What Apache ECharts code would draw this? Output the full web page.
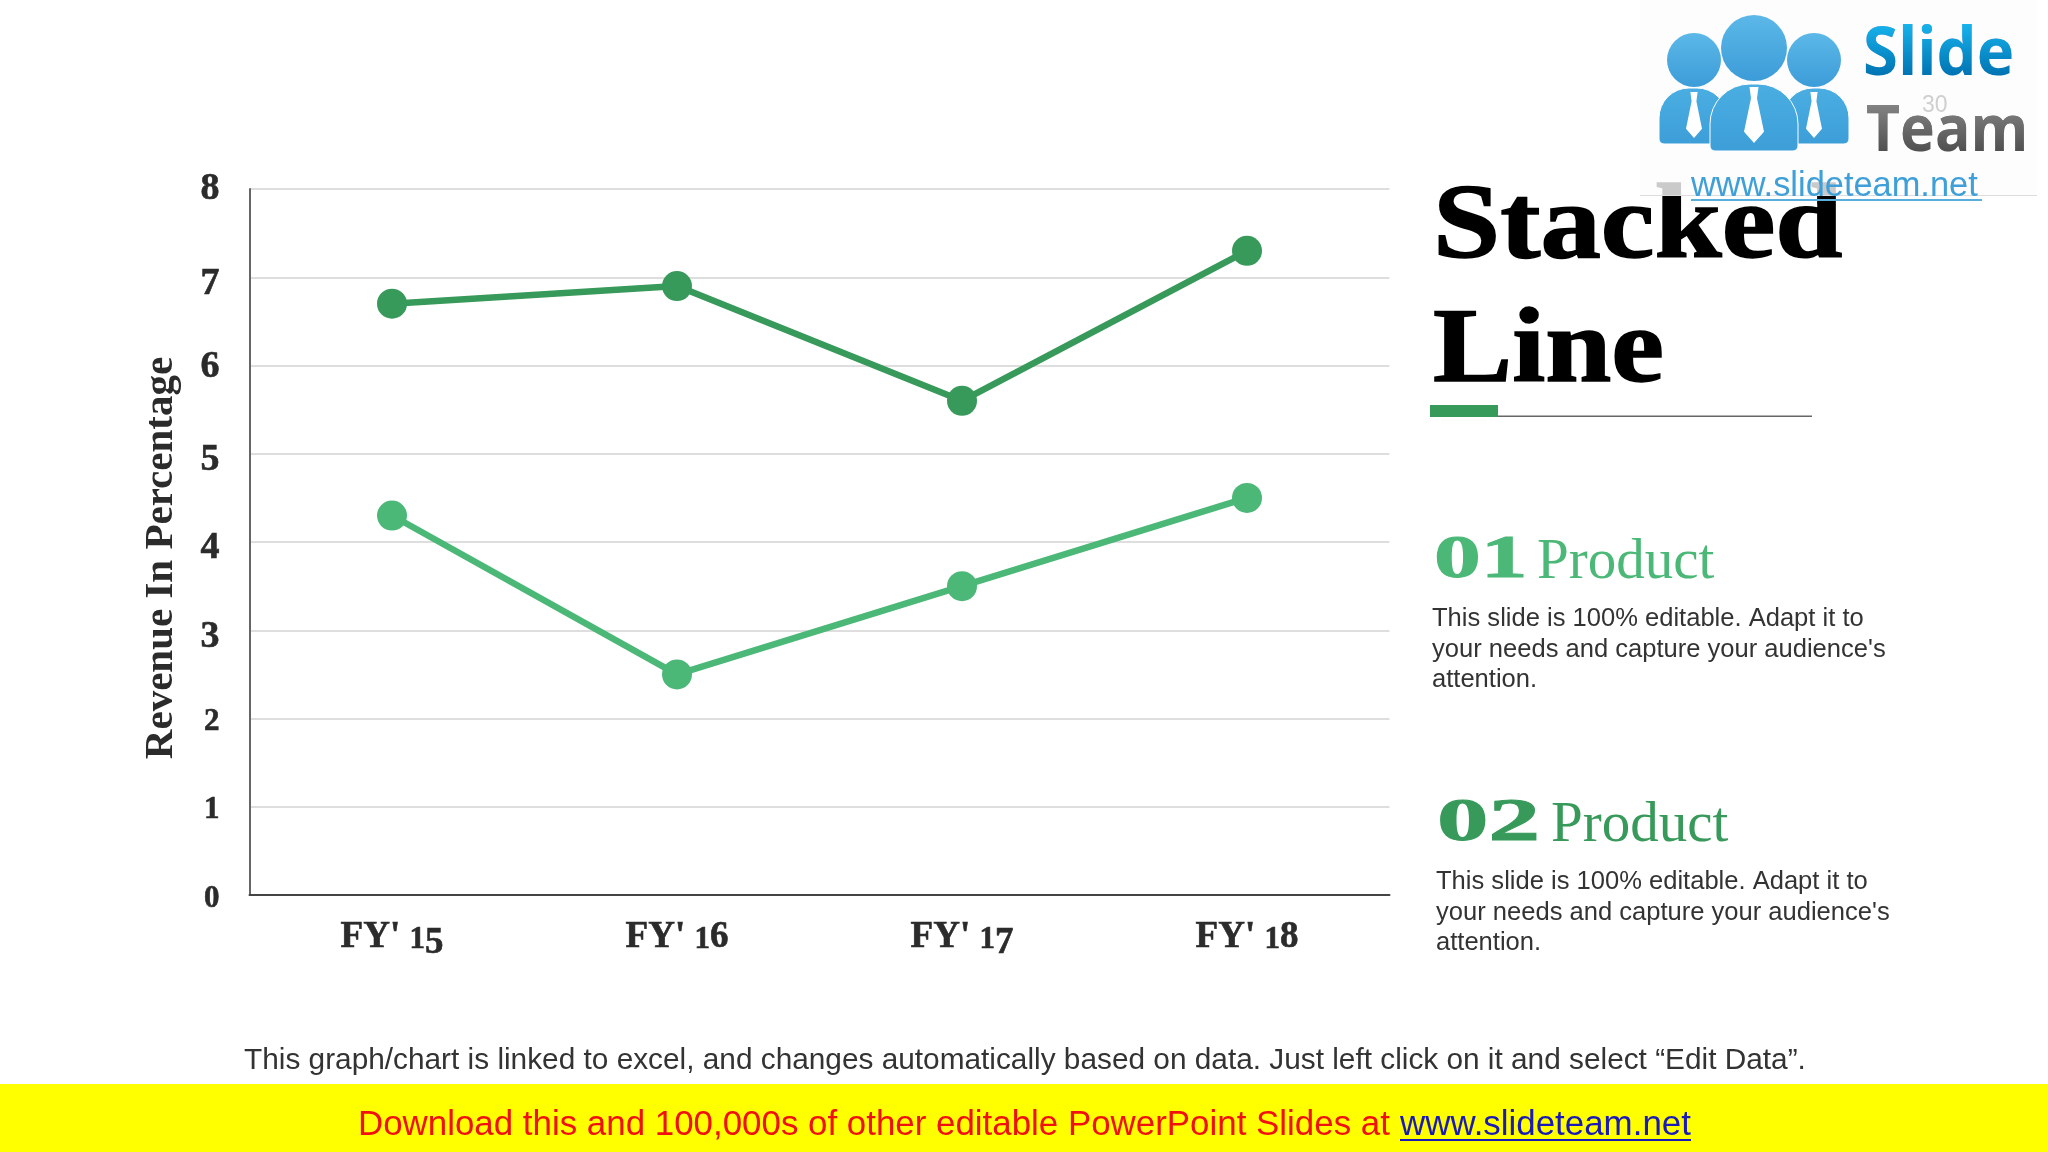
<!DOCTYPE html>
<html><head><meta charset="utf-8">
<style>html,body{margin:0;padding:0;background:#fff}#c{width:2048px;height:1152px}</style>
<script src="https://cdn.jsdelivr.net/npm/echarts@6/dist/echarts.min.js"></script>
</head><body><div id="c"></div>
<script>
const categories = ["FY' 15", "FY' 16", "FY' 17", "FY' 18"];
const product01 = [4.3, 2.5, 3.5, 4.5];
const product02 = [6.7, 6.9, 5.6, 7.3];
const yTicks = [0, 1, 2, 3, 4, 5, 6, 7, 8];
const yAxisTitle = "Revenue In Percentage";
const titleLines = ["Stacked", "Line"];
const bodyLines = ["This slide is 100% editable. Adapt it to", "your needs and capture your audience's", "attention."];
const footerNote = "This graph/chart is linked to excel, and changes automatically based on data. Just left click on it and select “Edit Data”.";
const bannerText = "Download this and 100,000s of other editable PowerPoint Slides at ";
const bannerLink = "www.slideteam.net";

const LIGHT = '#4cb877', DARK = '#389a5a';
const SERIF = '"Liberation Serif"', SANS = '"Liberation Sans"';
const INK = '#2b2b2b';

function txt(x, y, text, font, fill, scaleX, heavy) {
  const style = {text, font, fill, textVerticalAlign: 'middle', textAlign: 'left'};
  if (heavy) { style.stroke = fill; style.lineWidth = heavy; }
  return {type: 'text', x, y, scaleX: scaleX || 1, z: 10, silent: true, style};
}
function vGrad(a, b) {
  return new echarts.graphic.LinearGradient(0, 0, 0, 1, [{offset: 0, color: a}, {offset: 1, color: b}]);
}
function tie(cx, top, bot, w) {
  return {type: 'polygon', z: 13, silent: true, shape: {points: [
    [cx - w * .45, top], [cx + w * .45, top], [cx + w * .3, top + (bot - top) * .2],
    [cx + w, bot - (bot - top) * .2], [cx, bot], [cx - w, bot - (bot - top) * .2], [cx - w * .3, top + (bot - top) * .2]
  ]}, style: {fill: '#fff'}};
}
function head(cx, cy, r) {
  return {type: 'circle', z: 12, silent: true, shape: {cx, cy, r}, style: {fill: vGrad('#5cb8e8', '#3c9cd8')}};
}
function body(x, y, w, h, r) {
  return {type: 'rect', z: 12, silent: true, shape: {x, y, width: w, height: h, r: [r, r, 5, 5]},
    style: {fill: vGrad('#4aaee2', '#3d9ed8'), stroke: '#ffffff', lineWidth: 1}};
}
function sheen(x, y, w, h, rgb) {
  // lightens the dark logo lettering towards its top edge
  return {type: 'rect', z: 13, silent: true, shape: {x, y, width: w, height: h},
    style: {fill: vGrad('rgba(' + rgb + ',1)', 'rgba(' + rgb + ',0)'), blend: 'lighten'}};
}
function bodyBlock(x, y) {
  return bodyLines.map((t, i) => txt(x, y + i * 30.7, t, '25.55px ' + SANS, '#333333'));
}

const graphics = [
  // title
  txt(1433, 229.5, titleLines[0], 'bold 106px ' + SERIF, '#000', 1.14, 1.5),
  txt(1433, 353.5, titleLines[1], 'bold 106px ' + SERIF, '#000', 1.12, 1.5),
  {type: 'rect', z: 10, silent: true, shape: {x: 1430, y: 415.5, width: 382, height: 1.5}, style: {fill: '#666'}},
  {type: 'rect', z: 11, silent: true, shape: {x: 1430, y: 405, width: 68, height: 12}, style: {fill: DARK}},
  // side panels
  txt(1434, 561, '01', 'bold 62px ' + SERIF, LIGHT, 1.51, 1),
  txt(1537, 562.6, 'Product', '57px ' + SERIF, LIGHT),
  ...bodyBlock(1432, 619),
  txt(1437, 824, '02', 'bold 62px ' + SERIF, DARK, 1.66, 1),
  txt(1551, 825.6, 'Product', '57px ' + SERIF, DARK),
  ...bodyBlock(1436, 882),
  // footer
  txt(244, 1060.5, footerNote, '29.8px ' + SANS, '#333333'),
  {type: 'rect', z: 9, silent: true, shape: {x: 0, y: 1084, width: 2048, height: 68}, style: {fill: '#ffff00'}},
  txt(358, 1125, bannerText, '34.9px ' + SANS, '#f01010'),
  txt(1400, 1125, bannerLink, '34.9px ' + SANS, '#1a1ab8'),
  {type: 'rect', z: 11, silent: true, shape: {x: 1400, y: 1139, width: 291, height: 2}, style: {fill: '#1a1ab8'}},
  // logo (its pale panel veils the ascenders of the title, as in the source slide)
  {type: 'rect', z: 11, silent: true, shape: {x: 1640, y: 0, width: 397, height: 195}, style: {fill: 'rgba(253,253,253,0.8)'}},
  {type: 'rect', z: 11, silent: true, shape: {x: 1640, y: 195, width: 397, height: 1}, style: {fill: '#dddddd'}},
  body(1659, 88, 68, 56, 30),
  body(1783, 88, 66, 56, 30),
  body(1710, 84, 88, 67, 40),
  head(1694, 60, 27), head(1814, 60, 27), head(1754, 48, 33),
  tie(1694, 92, 138, 8), tie(1814, 92, 138, 8), tie(1754, 87, 143, 10),
  Object.assign(txt(1863, 56, 'Slide', 'bold 66px "Open Sans"', '#0072b2', .96), {z: 12}),
  Object.assign(txt(1866, 133, 'Team', 'bold 64px "Open Sans"', '#4e4e4e', .92), {z: 12}),
  sheen(1860, 22, 160, 54, '24,182,238'),
  sheen(1860, 103, 170, 50, '133,133,133'),
  Object.assign(txt(1922, 106, '30', '23px ' + SANS, '#cfcfcf'), {z: 14}),
  Object.assign(txt(1691, 186.5, bannerLink, '34.4px ' + SANS, '#3f9fd8'), {z: 12}),
  {type: 'rect', z: 12, silent: true, shape: {x: 1691, y: 199, width: 291, height: 2}, style: {fill: '#5aaedc'}}
];

// old-style numerals: small digits sit on the x-height, others drop below the baseline
const isSmall = d => d <= 2;
const drops = d => d === 3 || d === 4 || d === 5 || d === 7 || d === 9;
const heavyInk = {color: INK, textBorderColor: INK, textBorderWidth: 0.6};
const yRich = {};
yTicks.forEach(d => {
  yRich['d' + d] = Object.assign({fontFamily: SERIF, fontWeight: 'bold', fontSize: isSmall(d) ? 31 : 38,
    padding: [d === 8 ? 0 : (drops(d) ? 13 : (isSmall(d) ? 7 : 4)), 0, 0, 0]}, heavyInk);
});
const xRich = {f: Object.assign({fontFamily: SERIF, fontWeight: 'bold', fontSize: 37, lineHeight: 64}, heavyInk)};
yTicks.concat([9]).forEach(d => {
  xRich['x' + d] = Object.assign({fontFamily: SERIF, fontWeight: 'bold', fontSize: isSmall(d) ? 31 : 37, lineHeight: 64,
    padding: [drops(d) ? 12 : (isSmall(d) ? 4 : 0), 0, 0, 0]}, heavyInk);
});
function xLabel(v) {
  const parts = v.split(' ');
  return '{f|' + parts[0] + ' }' + parts[1].split('').map(c => '{x' + c + '|' + c + '}').join('');
}

function mkSeries(name, data, color) {
  return {name, type: 'line', data, symbol: 'circle', symbolSize: 30, showSymbol: true,
    lineStyle: {color, width: 6.5}, itemStyle: {color}, animation: false};
}

const chart = echarts.init(document.getElementById('c'), null, {renderer: 'canvas', width: 2048, height: 1152});
chart.setOption({
  backgroundColor: '#ffffff',
  animation: false,
  grid: {left: 249.5, top: 189, width: 1140, height: 706, containLabel: false},
  xAxis: {
    type: 'category', data: categories, boundaryGap: true,
    axisLine: {lineStyle: {color: '#444', width: 2}}, axisTick: {show: false},
    axisLabel: {margin: 10.5, formatter: xLabel, rich: xRich}
  },
  yAxis: {
    type: 'value', min: 0, max: 8, interval: 1,
    name: yAxisTitle, nameLocation: 'middle', nameGap: 68, nameRotate: 90,
    nameTextStyle: {fontFamily: SERIF, fontWeight: 'bold', fontSize: 41, color: INK, padding: [0, 32, 0, 0]},
    axisLine: {show: true, lineStyle: {color: '#666', width: 2}}, axisTick: {show: false},
    splitLine: {lineStyle: {color: '#dedede', width: 2}},
    axisLabel: {margin: 30, align: 'right', formatter: v => '{d' + v + '|' + v + '}', rich: yRich}
  },
  series: [mkSeries('01 Product', product01, LIGHT), mkSeries('02 Product', product02, DARK)],
  graphic: {elements: graphics}
});
</script></body></html>
